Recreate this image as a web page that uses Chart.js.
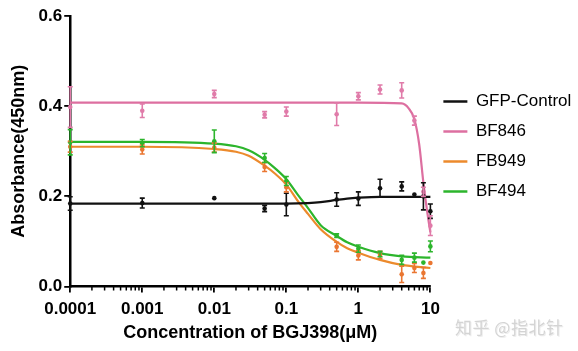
<!DOCTYPE html>
<html>
<head>
<meta charset="utf-8">
<script src="https://cdn.jsdelivr.net/npm/chart.js@4/dist/chart.umd.min.js"></script>
<style>
  html, body { margin: 0; padding: 0; background: #fff; }
  #wrap { position: relative; width: 578px; height: 351px; }
  #mark { position: absolute; left: 455px; top: 314px; font: 17px "Noto Sans CJK SC", sans-serif; color: #d4d4d4; text-shadow: 1px 1px 0 #eee; letter-spacing: 0.5px; }
</style>
</head>
<body>
<div id="wrap">
  <canvas id="chart" width="578" height="351"></canvas>
  <div id="mark">知乎 @指北针</div>
</div>
<script>
// measured concentrations (µM)
const concentrations = [0.0001, 0.001, 0.01, 0.05, 0.1, 0.5, 1, 2, 4, 6, 8, 10];
const yTicks = [0, 0.2, 0.4, 0.6];
const xDecades = [0.0001, 0.001, 0.01, 0.1, 1, 10];

// mean absorbance and error (half bar) per group
const gfpMeans  = [0.184, 0.185, 0.196, 0.173, 0.182, 0.193, 0.195, 0.218, 0.222, 0.204, 0.200, 0.167];
const gfpErrs   = [0.015, 0.011, 0,     0.007, 0.025, 0.015, 0.015, 0.020, 0.010, 0,     0.030, 0.016];
const bf846Means = [0.398, 0.390, 0.427, 0.381, 0.388, 0.382, 0.422, 0.437, 0.435, 0.368, 0.210, 0.135];
const bf846Errs  = [0.045, 0.015, 0.008, 0.007, 0.010, 0.025, 0.008, 0.010, 0.017, 0.010, 0.010, 0.022];
const fb949Means = [0.310, 0.304, 0.308, 0.265, 0.220, 0.088, 0.069, 0.070, 0.027, 0.041, 0.030, 0.052];
const fb949Errs  = [0.012, 0.010, 0.010, 0.010, 0.010, 0.010, 0.010, 0.008, 0.018, 0.010, 0.012, 0];
const bf494Means = [0.320, 0.318, 0.322, 0.285, 0.234, 0.113, 0.084, 0.072, 0.059, 0.064, 0.053, 0.089];
const bf494Errs  = [0.028, 0.008, 0.025, 0.010, 0.010, 0.004, 0.008, 0.006, 0.010, 0.010, 0,     0.012];

// fitted curves
const gfpCurveX  = [0.0001, 0.1, 0.2, 0.3, 0.5, 0.7, 1, 2, 10];
const gfpCurveY  = [0.184, 0.184, 0.185, 0.187, 0.192, 0.195, 0.197, 0.199, 0.199];
const bf846CurveX = [0.0001, 1, 4, 5, 6, 7, 8, 9, 10];
const bf846CurveY = [0.408, 0.408, 0.406, 0.395, 0.371, 0.315, 0.230, 0.168, 0.120];
const sigCurveX  = [0.0001, 0.001, 0.01, 0.02, 0.03, 0.05, 0.07, 0.1, 0.15, 0.2, 0.3, 0.5, 0.7, 1, 2, 4, 10];
const fb949CurveY = [0.310, 0.310, 0.305, 0.299, 0.290, 0.268, 0.250, 0.226, 0.186, 0.161, 0.127, 0.099, 0.085, 0.075, 0.059, 0.048, 0.041];
const bf494CurveY = [0.321, 0.321, 0.317, 0.311, 0.302, 0.281, 0.262, 0.238, 0.200, 0.174, 0.136, 0.112, 0.098, 0.088, 0.074, 0.067, 0.064];

const groups = [
  { name: 'GFP-Control', color: '#111111', dot: '#111111', means: gfpMeans, errs: gfpErrs, cx: gfpCurveX, cy: gfpCurveY },
  { name: 'BF846', color: '#dd6fa0', dot: '#e07ba9', means: bf846Means, errs: bf846Errs, cx: bf846CurveX, cy: bf846CurveY },
  { name: 'FB949', color: '#ec8a2c', dot: '#ea7631', means: fb949Means, errs: fb949Errs, cx: sigCurveX, cy: fb949CurveY },
  { name: 'BF494', color: '#2cb52c', dot: '#2cb52c', means: bf494Means, errs: bf494Errs, cx: sigCurveX, cy: bf494CurveY }
];

const font = 'Liberation Sans';

const curveSets = groups.map(g => ({
  type: 'line',
  label: g.name,
  data: g.cx.map((x, i) => ({ x: x, y: g.cy[i] })),
  borderColor: g.color,
  backgroundColor: g.color,
  borderWidth: 2.2,
  pointRadius: 0,
  cubicInterpolationMode: 'monotone',
  clip: false
}));

const pointSets = groups.map(g => ({
  type: 'scatter',
  label: g.name + ' data',
  data: concentrations.map((x, i) => ({ x: x, y: g.means[i] })),
  errors: g.errs,
  borderColor: g.dot,
  backgroundColor: g.dot,
  pointRadius: 2.3,
  pointBorderWidth: 0,
  clip: false
}));

const errorBars = {
  id: 'errorBars',
  afterDatasetsDraw(chart) {
    const { ctx, scales: { x, y } } = chart;
    chart.data.datasets.forEach(ds => {
      if (!ds.errors) return;
      ctx.save();
      ctx.strokeStyle = ds.borderColor;
      ctx.lineWidth = 1.6;
      ds.data.forEach((p, j) => {
        const e = ds.errors[j];
        if (!e) return;
        const px = x.getPixelForValue(p.x);
        const top = y.getPixelForValue(p.y + e);
        const bot = y.getPixelForValue(p.y - e);
        ctx.beginPath();
        ctx.moveTo(px, top); ctx.lineTo(px, bot);
        ctx.moveTo(px - 2.5, top); ctx.lineTo(px + 2.5, top);
        ctx.moveTo(px - 2.5, bot); ctx.lineTo(px + 2.5, bot);
        ctx.stroke();
      });
      ctx.restore();
    });
  }
};

// short minor ticks 2..9 in each decade of the log axis
const minorTicks = {
  id: 'minorTicks',
  afterDraw(chart) {
    const { ctx, scales: { x } } = chart;
    ctx.save();
    ctx.strokeStyle = '#000';
    ctx.lineWidth = 1.5;
    xDecades.slice(0, -1).forEach(d => {
      for (let k = 2; k <= 9; k++) {
        const px = x.getPixelForValue(d * k);
        ctx.beginPath();
        ctx.moveTo(px, x.top);
        ctx.lineTo(px, x.top + 4);
        ctx.stroke();
      }
    });
    ctx.restore();
  }
};

new Chart(document.getElementById('chart'), {
  data: { datasets: [...pointSets, ...curveSets] },
  options: {
    responsive: false,
    animation: false,
    layout: { padding: { left: 8.5, right: 7, top: 16, bottom: 1.5 } },
    plugins: {
      legend: {
        position: 'right',
        align: 'start',
        title: { display: true, text: '', font: { size: 10 }, padding: { top: 0, bottom: 52 } },
        labels: {
          color: '#000',
          font: { family: font, size: 17 },
          boxWidth: 24,
          boxHeight: 2.5,
          padding: 13,
          generateLabels: chart => Chart.defaults.plugins.legend.labels.generateLabels(chart)
            .filter(it => it.datasetIndex >= 4)
            .map(it => ({ ...it, lineWidth: 0, fillStyle: it.strokeStyle }))
        },
        onClick: null
      },
      tooltip: { enabled: false }
    },
    scales: {
      x: {
        type: 'logarithmic',
        min: 0.0001,
        max: 10,
        afterBuildTicks: scale => { scale.ticks = xDecades.map(v => ({ value: v })); },
        ticks: {
          color: '#000',
          font: { family: font, size: 17, weight: 'bold' },
          padding: 7,
          maxRotation: 0,
          autoSkip: false,
          callback: v => String(v)
        },
        grid: { drawOnChartArea: false, color: '#000', lineWidth: 1.8, tickLength: 6 },
        border: { color: '#000', width: 2.5 },
        title: {
          display: true,
          text: 'Concentration of BGJ398(μM)',
          color: '#000',
          font: { family: font, size: 18, weight: 'bold' },
          padding: { top: -5, bottom: 6 }
        }
      },
      y: {
        min: 0,
        max: 0.6,
        afterBuildTicks: scale => { scale.ticks = yTicks.map(v => ({ value: v })); },
        ticks: {
          color: '#000',
          font: { family: font, size: 17, weight: 'bold' },
          padding: 2,
          callback: v => v.toFixed(1)
        },
        grid: { drawOnChartArea: false, color: '#000', lineWidth: 1.8, tickLength: 6 },
        border: { color: '#000', width: 2.5 },
        title: {
          display: true,
          text: 'Absorbance(450nm)',
          color: '#000',
          font: { family: font, size: 18, weight: 'bold' },
          padding: { top: 0, bottom: 6.5 }
        }
      }
    }
  },
  plugins: [errorBars, minorTicks]
});
</script>
</body>
</html>
